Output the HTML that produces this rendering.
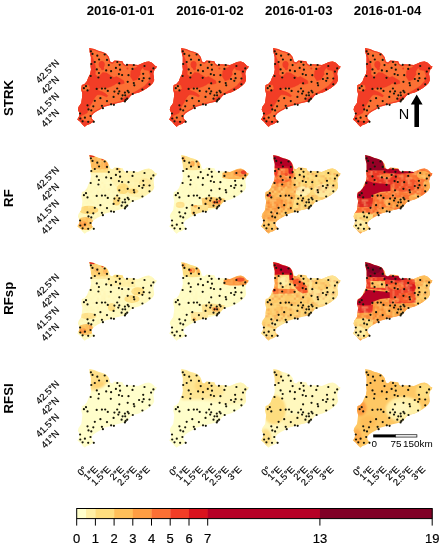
<!DOCTYPE html>
<html><head><meta charset="utf-8"><title>Daily precipitation maps</title>
<style>
html,body{margin:0;padding:0;background:#fff}
svg{display:block}
text{font-family:"Liberation Sans",Arial,Helvetica,sans-serif;fill:#000}
.t{font-weight:bold;font-size:13.2px}
.a{font-size:9.4px;stroke:#000;stroke-width:0.15px}
.c{font-size:13px;text-anchor:middle;stroke:#000;stroke-width:0.2px}
.s{font-size:9.9px;text-anchor:middle}
</style></head><body>
<svg width="443" height="550" viewBox="0 0 443 550">
<defs>
<polygon id="ol" points="89.4,48.1 94.3,49.0 98.2,50.7 102.7,51.9 106.1,53.5 108.9,56.9 110.1,61.4 112.3,62.6 114.5,60.6 117.9,60.7 122.5,61.3 123.6,63.7 125.4,65.0 129.0,64.2 133.5,64.6 138.1,65.1 141.7,63.4 145.3,62.0 148.9,61.4 151.6,62.5 153.9,64.4 154.8,65.7 156.7,66.2 156.2,68.3 154.8,69.3 153.9,71.6 153.4,73.9 153.9,77.5 154.2,80.2 153.0,82.9 150.5,85.4 146.8,88.2 143.0,90.4 139.5,92.3 137.0,93.0 133.7,93.7 130.9,95.4 128.6,98.2 125.8,101.0 121.3,102.2 116.8,103.3 112.3,104.4 107.2,105.9 103.3,107.0 100.5,109.3 97.1,111.0 93.7,113.2 91.4,116.0 92.0,118.9 94.3,120.9 92.6,122.2 89.8,123.9 86.9,125.1 84.7,126.8 82.4,124.5 80.2,121.7 77.3,119.4 79.0,116.6 79.6,113.2 77.9,109.8 78.5,107.0 81.3,103.0 81.9,98.5 82.4,94.0 81.3,89.5 81.9,85.0 84.3,84.3 86.9,81.2 88.3,77.6 90.3,73.8 91.0,69.5 90.6,66.0 90.9,62.6 90.9,56.9 89.8,52.4"/>
<clipPath id="cp"><use href="#ol"/></clipPath>
<filter id="bz" x="-20%" y="-20%" width="140%" height="140%"><feGaussianBlur stdDeviation="3.5"/></filter>
<filter id="bz1" x="-20%" y="-20%" width="140%" height="140%"><feGaussianBlur stdDeviation="2"/></filter>
<filter id="bz2" x="-30%" y="-30%" width="160%" height="160%"><feGaussianBlur stdDeviation="6"/></filter>
<pattern id="px" width="22.0" height="22.0" patternUnits="userSpaceOnUse"><rect x="0.0" y="0.0" width="2.2" height="2.2" fill="#E03410" fill-opacity="0.12"/><rect x="0.0" y="2.2" width="2.2" height="2.2" fill="#E03410" fill-opacity="0.12"/><rect x="0.0" y="4.4" width="2.2" height="2.2" fill="#FFE79A" fill-opacity="0.55"/><rect x="0.0" y="6.6" width="2.2" height="2.2" fill="#FFE79A" fill-opacity="0.55"/><rect x="0.0" y="8.8" width="2.2" height="2.2" fill="#FFE79A" fill-opacity="0.55"/><rect x="0.0" y="11.0" width="2.2" height="2.2" fill="#FFE79A" fill-opacity="0.25"/><rect x="0.0" y="13.2" width="2.2" height="2.2" fill="#E03410" fill-opacity="0.12"/><rect x="0.0" y="15.4" width="2.2" height="2.2" fill="#FFE79A" fill-opacity="0.55"/><rect x="0.0" y="17.6" width="2.2" height="2.2" fill="#E03410" fill-opacity="0.3"/><rect x="0.0" y="19.8" width="2.2" height="2.2" fill="#FFE79A" fill-opacity="0.25"/><rect x="2.2" y="4.4" width="2.2" height="2.2" fill="#FFE79A" fill-opacity="0.55"/><rect x="2.2" y="6.6" width="2.2" height="2.2" fill="#E03410" fill-opacity="0.12"/><rect x="2.2" y="8.8" width="2.2" height="2.2" fill="#FFE79A" fill-opacity="0.25"/><rect x="2.2" y="11.0" width="2.2" height="2.2" fill="#FFE79A" fill-opacity="0.25"/><rect x="2.2" y="13.2" width="2.2" height="2.2" fill="#E03410" fill-opacity="0.3"/><rect x="2.2" y="15.4" width="2.2" height="2.2" fill="#E03410" fill-opacity="0.3"/><rect x="2.2" y="17.6" width="2.2" height="2.2" fill="#FFE79A" fill-opacity="0.55"/><rect x="4.4" y="0.0" width="2.2" height="2.2" fill="#FFE79A" fill-opacity="0.25"/><rect x="4.4" y="2.2" width="2.2" height="2.2" fill="#E03410" fill-opacity="0.12"/><rect x="4.4" y="8.8" width="2.2" height="2.2" fill="#E03410" fill-opacity="0.3"/><rect x="4.4" y="11.0" width="2.2" height="2.2" fill="#E03410" fill-opacity="0.2"/><rect x="4.4" y="13.2" width="2.2" height="2.2" fill="#E03410" fill-opacity="0.2"/><rect x="4.4" y="15.4" width="2.2" height="2.2" fill="#E03410" fill-opacity="0.12"/><rect x="6.6" y="0.0" width="2.2" height="2.2" fill="#FFE79A" fill-opacity="0.55"/><rect x="6.6" y="2.2" width="2.2" height="2.2" fill="#E03410" fill-opacity="0.2"/><rect x="6.6" y="8.8" width="2.2" height="2.2" fill="#FFE79A" fill-opacity="0.25"/><rect x="6.6" y="11.0" width="2.2" height="2.2" fill="#FFE79A" fill-opacity="0.4"/><rect x="6.6" y="13.2" width="2.2" height="2.2" fill="#FFE79A" fill-opacity="0.4"/><rect x="6.6" y="15.4" width="2.2" height="2.2" fill="#FFE79A" fill-opacity="0.4"/><rect x="6.6" y="17.6" width="2.2" height="2.2" fill="#E03410" fill-opacity="0.3"/><rect x="6.6" y="19.8" width="2.2" height="2.2" fill="#FFE79A" fill-opacity="0.55"/><rect x="8.8" y="4.4" width="2.2" height="2.2" fill="#E03410" fill-opacity="0.3"/><rect x="8.8" y="6.6" width="2.2" height="2.2" fill="#E03410" fill-opacity="0.2"/><rect x="8.8" y="11.0" width="2.2" height="2.2" fill="#E03410" fill-opacity="0.12"/><rect x="8.8" y="15.4" width="2.2" height="2.2" fill="#E03410" fill-opacity="0.3"/><rect x="8.8" y="17.6" width="2.2" height="2.2" fill="#FFE79A" fill-opacity="0.55"/><rect x="11.0" y="6.6" width="2.2" height="2.2" fill="#FFE79A" fill-opacity="0.4"/><rect x="11.0" y="11.0" width="2.2" height="2.2" fill="#E03410" fill-opacity="0.2"/><rect x="11.0" y="13.2" width="2.2" height="2.2" fill="#E03410" fill-opacity="0.3"/><rect x="11.0" y="15.4" width="2.2" height="2.2" fill="#FFE79A" fill-opacity="0.25"/><rect x="11.0" y="17.6" width="2.2" height="2.2" fill="#FFE79A" fill-opacity="0.4"/><rect x="11.0" y="19.8" width="2.2" height="2.2" fill="#FFE79A" fill-opacity="0.25"/><rect x="13.2" y="0.0" width="2.2" height="2.2" fill="#E03410" fill-opacity="0.2"/><rect x="13.2" y="2.2" width="2.2" height="2.2" fill="#FFE79A" fill-opacity="0.4"/><rect x="13.2" y="4.4" width="2.2" height="2.2" fill="#E03410" fill-opacity="0.2"/><rect x="13.2" y="13.2" width="2.2" height="2.2" fill="#FFE79A" fill-opacity="0.4"/><rect x="13.2" y="19.8" width="2.2" height="2.2" fill="#E03410" fill-opacity="0.12"/><rect x="15.4" y="0.0" width="2.2" height="2.2" fill="#FFE79A" fill-opacity="0.25"/><rect x="15.4" y="2.2" width="2.2" height="2.2" fill="#FFE79A" fill-opacity="0.55"/><rect x="15.4" y="4.4" width="2.2" height="2.2" fill="#FFE79A" fill-opacity="0.4"/><rect x="15.4" y="8.8" width="2.2" height="2.2" fill="#FFE79A" fill-opacity="0.4"/><rect x="15.4" y="11.0" width="2.2" height="2.2" fill="#FFE79A" fill-opacity="0.4"/><rect x="15.4" y="13.2" width="2.2" height="2.2" fill="#E03410" fill-opacity="0.3"/><rect x="17.6" y="0.0" width="2.2" height="2.2" fill="#E03410" fill-opacity="0.3"/><rect x="17.6" y="6.6" width="2.2" height="2.2" fill="#E03410" fill-opacity="0.3"/><rect x="17.6" y="11.0" width="2.2" height="2.2" fill="#E03410" fill-opacity="0.2"/><rect x="17.6" y="13.2" width="2.2" height="2.2" fill="#E03410" fill-opacity="0.2"/><rect x="17.6" y="17.6" width="2.2" height="2.2" fill="#FFE79A" fill-opacity="0.25"/><rect x="19.8" y="0.0" width="2.2" height="2.2" fill="#E03410" fill-opacity="0.12"/><rect x="19.8" y="2.2" width="2.2" height="2.2" fill="#E03410" fill-opacity="0.12"/><rect x="19.8" y="4.4" width="2.2" height="2.2" fill="#FFE79A" fill-opacity="0.55"/><rect x="19.8" y="6.6" width="2.2" height="2.2" fill="#FFE79A" fill-opacity="0.25"/><rect x="19.8" y="13.2" width="2.2" height="2.2" fill="#FFE79A" fill-opacity="0.25"/><rect x="19.8" y="17.6" width="2.2" height="2.2" fill="#FFE79A" fill-opacity="0.4"/></pattern>
<pattern id="py" width="22.0" height="22.0" patternUnits="userSpaceOnUse"><rect x="0.0" y="2.2" width="2.2" height="2.2" fill="#FFFFCC" fill-opacity="0.6"/><rect x="0.0" y="4.4" width="2.2" height="2.2" fill="#FFEFA5" fill-opacity="0.6"/><rect x="0.0" y="8.8" width="2.2" height="2.2" fill="#FFFFCC" fill-opacity="0.6"/><rect x="0.0" y="11.0" width="2.2" height="2.2" fill="#FFFFCC" fill-opacity="0.6"/><rect x="0.0" y="13.2" width="2.2" height="2.2" fill="#FFEFA5" fill-opacity="0.4"/><rect x="0.0" y="19.8" width="2.2" height="2.2" fill="#FFFFCC" fill-opacity="0.6"/><rect x="2.2" y="2.2" width="2.2" height="2.2" fill="#FFFFCC" fill-opacity="0.6"/><rect x="2.2" y="4.4" width="2.2" height="2.2" fill="#FFEFA5" fill-opacity="0.8"/><rect x="2.2" y="6.6" width="2.2" height="2.2" fill="#FEDD7F" fill-opacity="0.3"/><rect x="2.2" y="11.0" width="2.2" height="2.2" fill="#FFEFA5" fill-opacity="0.8"/><rect x="2.2" y="17.6" width="2.2" height="2.2" fill="#FFEFA5" fill-opacity="0.6"/><rect x="4.4" y="0.0" width="2.2" height="2.2" fill="#FEDD7F" fill-opacity="0.3"/><rect x="4.4" y="2.2" width="2.2" height="2.2" fill="#FFFFCC" fill-opacity="0.6"/><rect x="4.4" y="6.6" width="2.2" height="2.2" fill="#FEDD7F" fill-opacity="0.3"/><rect x="4.4" y="15.4" width="2.2" height="2.2" fill="#FFEFA5" fill-opacity="0.4"/><rect x="6.6" y="0.0" width="2.2" height="2.2" fill="#FFEFA5" fill-opacity="0.8"/><rect x="6.6" y="2.2" width="2.2" height="2.2" fill="#FFFFCC" fill-opacity="0.6"/><rect x="6.6" y="11.0" width="2.2" height="2.2" fill="#FFFFCC" fill-opacity="0.6"/><rect x="6.6" y="13.2" width="2.2" height="2.2" fill="#FFEFA5" fill-opacity="0.8"/><rect x="6.6" y="17.6" width="2.2" height="2.2" fill="#FFFFCC" fill-opacity="0.6"/><rect x="8.8" y="4.4" width="2.2" height="2.2" fill="#FEDD7F" fill-opacity="0.3"/><rect x="8.8" y="6.6" width="2.2" height="2.2" fill="#FFEFA5" fill-opacity="0.6"/><rect x="8.8" y="8.8" width="2.2" height="2.2" fill="#FFEFA5" fill-opacity="0.4"/><rect x="8.8" y="11.0" width="2.2" height="2.2" fill="#FFFFCC" fill-opacity="0.6"/><rect x="8.8" y="17.6" width="2.2" height="2.2" fill="#FFEFA5" fill-opacity="0.8"/><rect x="8.8" y="19.8" width="2.2" height="2.2" fill="#FEDD7F" fill-opacity="0.3"/><rect x="11.0" y="2.2" width="2.2" height="2.2" fill="#FFEFA5" fill-opacity="0.6"/><rect x="11.0" y="8.8" width="2.2" height="2.2" fill="#FFFFCC" fill-opacity="0.6"/><rect x="11.0" y="11.0" width="2.2" height="2.2" fill="#FFEFA5" fill-opacity="0.8"/><rect x="11.0" y="13.2" width="2.2" height="2.2" fill="#FEDD7F" fill-opacity="0.5"/><rect x="11.0" y="15.4" width="2.2" height="2.2" fill="#FFFFCC" fill-opacity="0.6"/><rect x="11.0" y="19.8" width="2.2" height="2.2" fill="#FFEFA5" fill-opacity="0.4"/><rect x="13.2" y="0.0" width="2.2" height="2.2" fill="#FFEFA5" fill-opacity="0.4"/><rect x="13.2" y="2.2" width="2.2" height="2.2" fill="#FFEFA5" fill-opacity="0.8"/><rect x="13.2" y="8.8" width="2.2" height="2.2" fill="#FFEFA5" fill-opacity="0.8"/><rect x="13.2" y="15.4" width="2.2" height="2.2" fill="#FEDD7F" fill-opacity="0.3"/><rect x="13.2" y="17.6" width="2.2" height="2.2" fill="#FFEFA5" fill-opacity="0.8"/><rect x="15.4" y="0.0" width="2.2" height="2.2" fill="#FFFFCC" fill-opacity="0.6"/><rect x="15.4" y="4.4" width="2.2" height="2.2" fill="#FFFFCC" fill-opacity="0.6"/><rect x="15.4" y="11.0" width="2.2" height="2.2" fill="#FFEFA5" fill-opacity="0.6"/><rect x="15.4" y="13.2" width="2.2" height="2.2" fill="#FFEFA5" fill-opacity="0.8"/><rect x="15.4" y="15.4" width="2.2" height="2.2" fill="#FFEFA5" fill-opacity="0.8"/><rect x="15.4" y="17.6" width="2.2" height="2.2" fill="#FEDD7F" fill-opacity="0.5"/><rect x="17.6" y="0.0" width="2.2" height="2.2" fill="#FFEFA5" fill-opacity="0.8"/><rect x="17.6" y="2.2" width="2.2" height="2.2" fill="#FEDD7F" fill-opacity="0.5"/><rect x="17.6" y="8.8" width="2.2" height="2.2" fill="#FFFFCC" fill-opacity="0.6"/><rect x="17.6" y="15.4" width="2.2" height="2.2" fill="#FFEFA5" fill-opacity="0.4"/><rect x="17.6" y="17.6" width="2.2" height="2.2" fill="#FFFFCC" fill-opacity="0.6"/><rect x="17.6" y="19.8" width="2.2" height="2.2" fill="#FFEFA5" fill-opacity="0.6"/><rect x="19.8" y="6.6" width="2.2" height="2.2" fill="#FFEFA5" fill-opacity="0.4"/><rect x="19.8" y="8.8" width="2.2" height="2.2" fill="#FFFFCC" fill-opacity="0.6"/><rect x="19.8" y="15.4" width="2.2" height="2.2" fill="#FEDD7F" fill-opacity="0.5"/><rect x="19.8" y="19.8" width="2.2" height="2.2" fill="#FFEFA5" fill-opacity="0.8"/></pattern>
<g id="dots" fill="#17170a">
<circle cx="90.9" cy="51.3" r="1.1"/>
<circle cx="92.5" cy="53.9" r="1.1"/>
<circle cx="97.3" cy="55.7" r="1.1"/>
<circle cx="104.7" cy="54.5" r="1.1"/>
<circle cx="99.1" cy="59.5" r="1.1"/>
<circle cx="107" cy="59.9" r="1.1"/>
<circle cx="94.8" cy="62.0" r="1.1"/>
<circle cx="91.3" cy="64.0" r="1.1"/>
<circle cx="117.3" cy="62.0" r="1.1"/>
<circle cx="108.8" cy="65.1" r="1.1"/>
<circle cx="115.9" cy="67.9" r="1.1"/>
<circle cx="96.8" cy="69.4" r="1.1"/>
<circle cx="106.2" cy="70.4" r="1.1"/>
<circle cx="111.1" cy="71.2" r="1.1"/>
<circle cx="98.9" cy="73.0" r="1.1"/>
<circle cx="90.7" cy="76.0" r="1.1"/>
<circle cx="98.4" cy="77.5" r="1.1"/>
<circle cx="110.8" cy="77.8" r="1.1"/>
<circle cx="118.9" cy="74.1" r="1.1"/>
<circle cx="119.7" cy="64.8" r="1.1"/>
<circle cx="119.3" cy="83.3" r="1.1"/>
<circle cx="86" cy="86.2" r="1.1"/>
<circle cx="83.9" cy="88.2" r="1.1"/>
<circle cx="96.7" cy="88.9" r="1.1"/>
<circle cx="101.9" cy="88.6" r="1.1"/>
<circle cx="105.2" cy="88.5" r="1.1"/>
<circle cx="127" cy="64.8" r="1.1"/>
<circle cx="133.8" cy="65.0" r="1.1"/>
<circle cx="144.5" cy="66.0" r="1.1"/>
<circle cx="153.4" cy="68.4" r="1.1"/>
<circle cx="120.1" cy="69.7" r="1.1"/>
<circle cx="132.5" cy="68.9" r="1.1"/>
<circle cx="151.1" cy="71.6" r="1.1"/>
<circle cx="122.1" cy="75.0" r="1.1"/>
<circle cx="128.5" cy="75.2" r="1.1"/>
<circle cx="143.2" cy="73.8" r="1.1"/>
<circle cx="139.1" cy="79.0" r="1.1"/>
<circle cx="143.7" cy="78.2" r="1.1"/>
<circle cx="149.5" cy="78.5" r="1.1"/>
<circle cx="142.4" cy="80.8" r="1.1"/>
<circle cx="127.7" cy="81.8" r="1.1"/>
<circle cx="133.8" cy="83.1" r="1.1"/>
<circle cx="134.3" cy="85.3" r="1.1"/>
<circle cx="149.5" cy="84.3" r="1.1"/>
<circle cx="117.2" cy="88.5" r="1.1"/>
<circle cx="87.5" cy="90.4" r="1.1"/>
<circle cx="107.8" cy="90.9" r="1.1"/>
<circle cx="114.4" cy="91.6" r="1.1"/>
<circle cx="118.3" cy="93.6" r="1.1"/>
<circle cx="119.3" cy="91.3" r="1.1"/>
<circle cx="113.6" cy="96.9" r="1.1"/>
<circle cx="100.4" cy="98.2" r="1.1"/>
<circle cx="94.8" cy="100.8" r="1.1"/>
<circle cx="107" cy="101.1" r="1.1"/>
<circle cx="111.1" cy="104.3" r="1.1"/>
<circle cx="113.9" cy="104.8" r="1.1"/>
<circle cx="87.5" cy="105.3" r="1.1"/>
<circle cx="93.3" cy="106.3" r="1.1"/>
<circle cx="101.9" cy="105.8" r="1.1"/>
<circle cx="102.9" cy="108.2" r="1.1"/>
<circle cx="88.5" cy="109.4" r="1.1"/>
<circle cx="91.3" cy="110.4" r="1.1"/>
<circle cx="80.1" cy="113.5" r="1.1"/>
<circle cx="90.5" cy="116.0" r="1.1"/>
<circle cx="84.9" cy="117.7" r="1.1"/>
<circle cx="80.3" cy="118.5" r="1.1"/>
<circle cx="82.6" cy="121.3" r="1.1"/>
<circle cx="88.2" cy="121.8" r="1.1"/>
<circle cx="93.8" cy="121.8" r="1.1"/>
<circle cx="142.4" cy="89.5" r="1.1"/>
<circle cx="127.7" cy="90.8" r="1.1"/>
<circle cx="128.7" cy="92.3" r="1.1"/>
<circle cx="124.9" cy="92.6" r="1.1"/>
<circle cx="132.8" cy="94.0" r="1.1"/>
<circle cx="122.6" cy="95.3" r="1.1"/>
<circle cx="125.2" cy="95.3" r="1.1"/>
<circle cx="121.6" cy="98.7" r="1.1"/>
<circle cx="127.2" cy="98.7" r="1.1"/>
<circle cx="125.7" cy="99.9" r="1.1"/>
<circle cx="124.9" cy="101.4" r="1.1"/>
</g>
</defs>
<rect width="443" height="550" fill="#fff"/>
<text class="t" x="120.5" y="15" text-anchor="middle">2016-01-01</text>
<text class="t" x="209.9" y="15" text-anchor="middle">2016-01-02</text>
<text class="t" x="298.8" y="15" text-anchor="middle">2016-01-03</text>
<text class="t" x="387.6" y="15" text-anchor="middle">2016-01-04</text>
<text class="t" text-anchor="middle" transform="translate(13.2,98.0) rotate(-90)">STRK</text>
<text class="a" text-anchor="end" transform="translate(59.8,63.4) rotate(-45)">42.5°N</text>
<text class="a" text-anchor="end" transform="translate(59.8,79.9) rotate(-45)">42°N</text>
<text class="a" text-anchor="end" transform="translate(59.8,96.4) rotate(-45)">41.5°N</text>
<text class="a" text-anchor="end" transform="translate(59.8,112.9) rotate(-45)">41°N</text>
<text class="t" text-anchor="middle" transform="translate(13.2,198.1) rotate(-90)">RF</text>
<text class="a" text-anchor="end" transform="translate(59.8,170.4) rotate(-45)">42.5°N</text>
<text class="a" text-anchor="end" transform="translate(59.8,186.9) rotate(-45)">42°N</text>
<text class="a" text-anchor="end" transform="translate(59.8,203.4) rotate(-45)">41.5°N</text>
<text class="a" text-anchor="end" transform="translate(59.8,219.9) rotate(-45)">41°N</text>
<text class="t" text-anchor="middle" transform="translate(13.2,298.3) rotate(-90)">RFsp</text>
<text class="a" text-anchor="end" transform="translate(59.8,277.4) rotate(-45)">42.5°N</text>
<text class="a" text-anchor="end" transform="translate(59.8,293.9) rotate(-45)">42°N</text>
<text class="a" text-anchor="end" transform="translate(59.8,310.4) rotate(-45)">41.5°N</text>
<text class="a" text-anchor="end" transform="translate(59.8,326.9) rotate(-45)">41°N</text>
<text class="t" text-anchor="middle" transform="translate(13.2,398.4) rotate(-90)">RFSI</text>
<text class="a" text-anchor="end" transform="translate(59.8,384.4) rotate(-45)">42.5°N</text>
<text class="a" text-anchor="end" transform="translate(59.8,400.9) rotate(-45)">42°N</text>
<text class="a" text-anchor="end" transform="translate(59.8,417.4) rotate(-45)">41.5°N</text>
<text class="a" text-anchor="end" transform="translate(59.8,433.9) rotate(-45)">41°N</text>
<text class="a" text-anchor="end" transform="translate(87.5,470) rotate(-45)">0°</text>
<text class="a" text-anchor="end" transform="translate(98.3,470) rotate(-45)">1°E</text>
<text class="a" text-anchor="end" transform="translate(111.3,470) rotate(-45)">1.5°E</text>
<text class="a" text-anchor="end" transform="translate(124.3,470) rotate(-45)">2°E</text>
<text class="a" text-anchor="end" transform="translate(137.3,470) rotate(-45)">2.5°E</text>
<text class="a" text-anchor="end" transform="translate(150.3,470) rotate(-45)">3°E</text>
<text class="a" text-anchor="end" transform="translate(179.4,470) rotate(-45)">0°</text>
<text class="a" text-anchor="end" transform="translate(190.2,470) rotate(-45)">1°E</text>
<text class="a" text-anchor="end" transform="translate(203.2,470) rotate(-45)">1.5°E</text>
<text class="a" text-anchor="end" transform="translate(216.2,470) rotate(-45)">2°E</text>
<text class="a" text-anchor="end" transform="translate(229.2,470) rotate(-45)">2.5°E</text>
<text class="a" text-anchor="end" transform="translate(242.2,470) rotate(-45)">3°E</text>
<text class="a" text-anchor="end" transform="translate(271.3,470) rotate(-45)">0°</text>
<text class="a" text-anchor="end" transform="translate(282.1,470) rotate(-45)">1°E</text>
<text class="a" text-anchor="end" transform="translate(295.1,470) rotate(-45)">1.5°E</text>
<text class="a" text-anchor="end" transform="translate(308.1,470) rotate(-45)">2°E</text>
<text class="a" text-anchor="end" transform="translate(321.1,470) rotate(-45)">2.5°E</text>
<text class="a" text-anchor="end" transform="translate(334.1,470) rotate(-45)">3°E</text>
<text class="a" text-anchor="end" transform="translate(363.2,470) rotate(-45)">0°</text>
<text class="a" text-anchor="end" transform="translate(374.0,470) rotate(-45)">1°E</text>
<text class="a" text-anchor="end" transform="translate(387.0,470) rotate(-45)">1.5°E</text>
<text class="a" text-anchor="end" transform="translate(400.0,470) rotate(-45)">2°E</text>
<text class="a" text-anchor="end" transform="translate(413.0,470) rotate(-45)">2.5°E</text>
<text class="a" text-anchor="end" transform="translate(426.0,470) rotate(-45)">3°E</text>
<g transform="translate(0.0,0.0)">
<g clip-path="url(#cp)"><rect x="70" y="40" width="95" height="95" fill="#FC7034"/>
<g transform="translate(70,40) scale(0.20317)"><polygon fill="#F23D26" points="85,30 106,48 108,80 121,112 126,138 124,168 139,183 149,173 161,160 181,163 199,175 216,185 229,180 244,188 264,200 267,213 249,218 229,213 219,220 199,230 181,235 161,233 144,238 134,245 144,250 159,255 174,263 186,275 181,280 164,273 149,269 134,270 124,280 116,293 109,308 99,323 91,338 84,359 66,368 52,374 60,392 90,400 125,398 125,430 20,430 20,200 80,60" stroke="#F23D26" stroke-width="2.5" stroke-linejoin="round"/><polygon fill="#FC7034" points="50,228 70,220 92,224 96,240 80,250 56,248" stroke="#FC7034" stroke-width="4" stroke-linejoin="round"/><polygon fill="#FC7034" points="62,385 95,385 118,392 100,398 70,397"/><ellipse fill="#F23D26" cx="156" cy="121" rx="15" ry="18"/><ellipse fill="#F23D26" cx="160" cy="140" rx="8" ry="9"/><polygon fill="#F23D26" points="300,152 320,137 343,140 346,170 330,195 310,200 298,180" stroke="#F23D26" stroke-width="2.5" stroke-linejoin="round"/><polygon fill="#F23D26" points="352,125 370,105 400,98 430,108 440,128 412,140 407,160 416,185 404,215 382,238 350,258 320,278 290,293 262,306 252,292 290,272 330,250 368,226 390,200 396,175 388,150 365,147" stroke="#F23D26" stroke-width="2.5" stroke-linejoin="round"/><ellipse fill="#F23D26" cx="283" cy="140" rx="5" ry="5"/><polygon fill="#F23D26" points="318,142 340,122 372,106 380,125 355,140 343,160"/></g>
<use href="#ol" fill="none" stroke="#F23D26" stroke-width="2.4" stroke-linejoin="round"/>
</g><use href="#dots"/></g>
<g transform="translate(91.9,0.0)">
<g clip-path="url(#cp)"><rect x="70" y="40" width="95" height="95" fill="#FC7034"/>
<g transform="translate(70,40) scale(0.20317)"><polygon fill="#F23D26" points="85,30 106,48 108,80 121,112 126,138 124,168 139,183 149,173 161,160 181,163 199,175 216,185 229,180 244,188 264,200 267,213 249,218 229,213 219,220 199,230 181,235 161,233 144,238 134,245 144,250 159,255 174,263 186,275 181,280 164,273 149,269 134,270 124,280 116,293 109,308 99,323 91,338 84,359 66,368 52,374 60,392 90,400 125,398 125,430 20,430 20,200 80,60" stroke="#F23D26" stroke-width="2.5" stroke-linejoin="round"/><polygon fill="#FC7034" points="50,228 70,220 92,224 96,240 80,250 56,248" stroke="#FC7034" stroke-width="4" stroke-linejoin="round"/><polygon fill="#FC7034" points="62,385 95,385 118,392 100,398 70,397"/><ellipse fill="#F23D26" cx="156" cy="121" rx="15" ry="18"/><ellipse fill="#F23D26" cx="160" cy="140" rx="8" ry="9"/><polygon fill="#F23D26" points="300,152 320,137 343,140 346,170 330,195 310,200 298,180" stroke="#F23D26" stroke-width="2.5" stroke-linejoin="round"/><polygon fill="#F23D26" points="352,125 370,105 400,98 430,108 440,128 412,140 407,160 416,185 404,215 382,238 350,258 320,278 290,293 262,306 252,292 290,272 330,250 368,226 390,200 396,175 388,150 365,147" stroke="#F23D26" stroke-width="2.5" stroke-linejoin="round"/><ellipse fill="#F23D26" cx="283" cy="140" rx="5" ry="5"/><polygon fill="#F23D26" points="318,142 340,122 372,106 380,125 355,140 343,160"/></g>
<use href="#ol" fill="none" stroke="#F23D26" stroke-width="2.4" stroke-linejoin="round"/>
</g><use href="#dots"/></g>
<g transform="translate(183.8,0.0)">
<g clip-path="url(#cp)"><rect x="70" y="40" width="95" height="95" fill="#FC7034"/>
<g transform="translate(70,40) scale(0.20317)"><polygon fill="#F23D26" points="85,30 106,48 108,80 121,112 126,138 124,168 139,183 149,173 161,160 181,163 199,175 216,185 229,180 244,188 264,200 267,213 249,218 229,213 219,220 199,230 181,235 161,233 144,238 134,245 144,250 159,255 174,263 186,275 181,280 164,273 149,269 134,270 124,280 116,293 109,308 99,323 91,338 84,359 66,368 52,374 60,392 90,400 125,398 125,430 20,430 20,200 80,60" stroke="#F23D26" stroke-width="2.5" stroke-linejoin="round"/><polygon fill="#FC7034" points="50,228 70,220 92,224 96,240 80,250 56,248" stroke="#FC7034" stroke-width="4" stroke-linejoin="round"/><polygon fill="#FC7034" points="62,385 95,385 118,392 100,398 70,397"/><ellipse fill="#F23D26" cx="156" cy="121" rx="15" ry="18"/><ellipse fill="#F23D26" cx="160" cy="140" rx="8" ry="9"/><polygon fill="#F23D26" points="300,152 320,137 343,140 346,170 330,195 310,200 298,180" stroke="#F23D26" stroke-width="2.5" stroke-linejoin="round"/><polygon fill="#F23D26" points="352,125 370,105 400,98 430,108 440,128 412,140 407,160 416,185 404,215 382,238 350,258 320,278 290,293 262,306 252,292 290,272 330,250 368,226 390,200 396,175 388,150 365,147" stroke="#F23D26" stroke-width="2.5" stroke-linejoin="round"/><ellipse fill="#F23D26" cx="283" cy="140" rx="5" ry="5"/><polygon fill="#F23D26" points="318,142 340,122 372,106 380,125 355,140 343,160"/></g>
<use href="#ol" fill="none" stroke="#F23D26" stroke-width="2.4" stroke-linejoin="round"/>
</g><use href="#dots"/></g>
<g transform="translate(275.7,0.0)">
<g clip-path="url(#cp)"><rect x="70" y="40" width="95" height="95" fill="#FC7034"/>
<g transform="translate(70,40) scale(0.20317)"><polygon fill="#F23D26" points="85,30 106,48 108,80 121,112 126,138 124,168 139,183 149,173 161,160 181,163 199,175 216,185 229,180 244,188 264,200 267,213 249,218 229,213 219,220 199,230 181,235 161,233 144,238 134,245 144,250 159,255 174,263 186,275 181,280 164,273 149,269 134,270 124,280 116,293 109,308 99,323 91,338 84,359 66,368 52,374 60,392 90,400 125,398 125,430 20,430 20,200 80,60" stroke="#F23D26" stroke-width="2.5" stroke-linejoin="round"/><polygon fill="#FC7034" points="50,228 70,220 92,224 96,240 80,250 56,248" stroke="#FC7034" stroke-width="4" stroke-linejoin="round"/><polygon fill="#FC7034" points="62,385 95,385 118,392 100,398 70,397"/><ellipse fill="#F23D26" cx="156" cy="121" rx="15" ry="18"/><ellipse fill="#F23D26" cx="160" cy="140" rx="8" ry="9"/><polygon fill="#F23D26" points="300,152 320,137 343,140 346,170 330,195 310,200 298,180" stroke="#F23D26" stroke-width="2.5" stroke-linejoin="round"/><polygon fill="#F23D26" points="352,125 370,105 400,98 430,108 440,128 412,140 407,160 416,185 404,215 382,238 350,258 320,278 290,293 262,306 252,292 290,272 330,250 368,226 390,200 396,175 388,150 365,147" stroke="#F23D26" stroke-width="2.5" stroke-linejoin="round"/><ellipse fill="#F23D26" cx="283" cy="140" rx="5" ry="5"/><polygon fill="#F23D26" points="318,142 340,122 372,106 380,125 355,140 343,160"/></g>
<use href="#ol" fill="none" stroke="#F23D26" stroke-width="2.4" stroke-linejoin="round"/>
</g><use href="#dots"/></g>
<g transform="translate(0.0,107.0)">
<g clip-path="url(#cp)"><rect x="70" y="40" width="95" height="95" fill="#FFFAC0"/>
<g transform="translate(70,40) scale(0.20317)" filter="url(#bz)"><polygon fill="#FFF3AE" points="190,100 250,95 330,115 430,100 430,200 350,250 280,240 230,200 190,150"/><polygon fill="#FEB856" points="90,35 125,45 160,55 183,68 190,90 187,112 150,114 110,112 98,85 98,60"/><rect fill="#FEDD7F" x="98" y="110" width="92" height="16"/><ellipse fill="#FD9D43" cx="176" cy="88" rx="8" ry="16"/><ellipse fill="#FDAE50" cx="135" cy="86" rx="10" ry="10"/><ellipse fill="#FEC866" cx="236" cy="108" rx="13" ry="8"/><ellipse fill="#FEDA78" cx="260" cy="205" rx="30" ry="26"/><ellipse fill="#FED878" cx="310" cy="218" rx="26" ry="14"/><ellipse fill="#FEE89A" cx="370" cy="176" rx="30" ry="22"/><ellipse fill="#FED878" cx="230" cy="266" rx="18" ry="22"/><ellipse fill="#FED878" cx="92" cy="310" rx="48" ry="21"/><ellipse fill="#FEBF5A" cx="75" cy="377" rx="44" ry="32"/><ellipse fill="#FD9D43" cx="64" cy="380" rx="20" ry="15"/></g>
<rect x="70" y="40" width="95" height="95" fill="url(#py)" opacity="0.3"/>
<g transform="translate(70,40) scale(0.20317)" filter="url(#bz1)"><polygon fill="#E02A20" points="88,34 122,42 119,50 96,48"/><ellipse fill="#EE5030" cx="160" cy="62" rx="6" ry="5"/></g>
</g><use href="#dots"/></g>
<g transform="translate(91.9,107.0)">
<g clip-path="url(#cp)"><rect x="70" y="40" width="95" height="95" fill="#FFFDC6"/>
<g transform="translate(70,40) scale(0.20317)" filter="url(#bz)"><polygon fill="#FEE08A" points="90,35 125,45 160,55 183,68 190,90 187,112 150,114 110,112 98,85 98,60"/><ellipse fill="#FDA84A" cx="150" cy="82" rx="11" ry="14"/><ellipse fill="#FDAE50" cx="178" cy="85" rx="7" ry="15"/><ellipse fill="#FDB458" cx="107" cy="57" rx="8" ry="13"/><polygon fill="#FEB452" points="298,128 330,112 370,100 430,102 430,152 380,157 330,157 298,152"/><ellipse fill="#FD8D3C" cx="385" cy="128" rx="32" ry="18"/><polygon fill="#FEC866" points="195,252 240,245 310,255 300,280 260,300 225,300 200,285"/><ellipse fill="#FD8D3C" cx="268" cy="272" rx="22" ry="10"/><polygon fill="#FEE08A" points="140,285 230,285 225,320 170,335 145,330"/><ellipse fill="#FDAE50" cx="165" cy="292" rx="9" ry="7"/><ellipse fill="#FDAE50" cx="155" cy="325" rx="8" ry="8"/><ellipse fill="#FEE08A" cx="90" cy="285" rx="22" ry="15"/></g>
<rect x="70" y="40" width="95" height="95" fill="url(#py)" opacity="0.22"/>
<g transform="translate(70,40) scale(0.20317)" filter="url(#bz1)"><ellipse fill="#E8402A" cx="403" cy="124" rx="14" ry="10"/><ellipse fill="#E8402A" cx="262" cy="272" rx="7" ry="5"/><ellipse fill="#E8402A" cx="283" cy="266" rx="6" ry="5"/></g>
</g><use href="#dots"/></g>
<g transform="translate(183.8,107.0)">
<g clip-path="url(#cp)"><rect x="70" y="40" width="95" height="95" fill="#FEBF5A"/>
<g transform="translate(70,40) scale(0.20317)" filter="url(#bz)"><polygon fill="#FEDA78" points="185,95 250,90 330,110 440,95 440,210 350,270 280,310 200,340 150,300 190,250 205,200 190,150"/><ellipse fill="#FFF2B0" cx="240" cy="218" rx="38" ry="24"/><ellipse fill="#FEE89A" cx="350" cy="215" rx="55" ry="35"/><polygon fill="#FDB656" points="95,120 200,120 210,200 200,260 190,300 200,345 120,380 95,420 30,420 30,300 50,220 90,180"/><ellipse fill="#FD9D43" cx="105" cy="280" rx="58" ry="24"/><ellipse fill="#FD9840" cx="140" cy="172" rx="48" ry="26"/><ellipse fill="#FDAE50" cx="80" cy="330" rx="30" ry="28"/><ellipse fill="#FEC866" cx="70" cy="388" rx="35" ry="22"/><ellipse fill="#FEBF5A" cx="165" cy="322" rx="35" ry="18"/><polygon fill="#FA6C32" points="92,95 192,95 196,150 165,172 98,182 86,140"/><ellipse fill="#FD9040" cx="145" cy="150" rx="30" ry="14"/></g>
<rect x="70" y="40" width="95" height="95" fill="url(#px)" opacity="0.7"/>
<g transform="translate(70,40) scale(0.20317)" filter="url(#bz1)"><polygon fill="#CC1026" points="86,32 130,46 160,54 184,66 194,100 192,132 172,132 170,104 94,104 90,60"/><polygon fill="#B60026" points="95,42 130,52 160,60 180,73 185,96 150,96 120,92 104,88"/><ellipse fill="#E8402A" cx="74" cy="238" rx="12" ry="8"/><ellipse fill="#F23D26" cx="108" cy="125" rx="9" ry="16"/><ellipse fill="#F4502C" cx="160" cy="135" rx="8" ry="8"/></g>
</g><use href="#dots"/></g>
<g transform="translate(275.7,107.0)">
<g clip-path="url(#cp)"><rect x="70" y="40" width="95" height="95" fill="#FD9D43"/>
<g transform="translate(70,40) scale(0.20317)" filter="url(#bz)"><polygon fill="#FC7836" points="200,120 440,95 440,210 350,270 280,310 200,340 140,320 130,240 215,215"/><ellipse fill="#FDB050" cx="382" cy="138" rx="32" ry="20"/><ellipse fill="#F4522C" cx="290" cy="185" rx="65" ry="36"/><ellipse fill="#F4522C" cx="255" cy="150" rx="55" ry="26"/><ellipse fill="#FD9D43" cx="250" cy="275" rx="60" ry="25"/><ellipse fill="#FDAE50" cx="345" cy="248" rx="35" ry="15"/><ellipse fill="#FDAE50" cx="200" cy="312" rx="40" ry="14"/><ellipse fill="#FDAE50" cx="400" cy="190" rx="18" ry="30"/><polygon fill="#EC3826" points="95,112 255,118 250,172 215,188 100,170"/><ellipse fill="#FC8038" cx="200" cy="142" rx="32" ry="12"/><polygon fill="#E02A20" points="50,248 135,248 130,300 60,305 45,280"/><polygon fill="#FC7034" points="45,295 135,295 140,325 90,335 45,330"/><polygon fill="#FEDD7F" points="30,325 95,322 135,330 130,370 110,420 30,420"/><ellipse fill="#FFEFA5" cx="68" cy="385" rx="32" ry="28"/></g>
<rect x="70" y="40" width="95" height="95" fill="url(#px)" opacity="0.65"/>
<g transform="translate(70,40) scale(0.20317)" filter="url(#bz1)"><polygon fill="#960026" points="88,34 130,48 160,56 182,68 190,100 190,116 150,116 96,114 94,60"/><polygon fill="#B00026" points="188,104 250,108 330,112 335,128 260,132 188,126"/><polygon fill="#B60026" points="96,164 140,176 220,185 220,217 170,222 132,236 122,252 45,252 50,235 72,214 94,190"/></g>
</g><use href="#dots"/></g>
<g transform="translate(0.0,214.0)">
<g clip-path="url(#cp)"><rect x="70" y="40" width="95" height="95" fill="#FFFAC0"/>
<g transform="translate(70,40) scale(0.20317)" filter="url(#bz)"><polygon fill="#FED070" points="90,35 125,45 160,55 183,68 190,90 187,112 150,114 110,112 98,85 98,60"/><rect fill="#FEE699" x="98" y="110" width="92" height="12"/><ellipse fill="#FDAE50" cx="172" cy="85" rx="9" ry="15"/><ellipse fill="#FDB458" cx="132" cy="80" rx="12" ry="12"/><polygon fill="#FFEFA5" points="188,105 250,100 321,118 321,163 250,160 188,150"/><ellipse fill="#FEDD7F" cx="240" cy="110" rx="28" ry="9"/><ellipse fill="#FEDD7F" cx="334" cy="184" rx="32" ry="20"/><ellipse fill="#FEDD7F" cx="305" cy="222" rx="38" ry="19"/><ellipse fill="#FEDD7F" cx="205" cy="262" rx="18" ry="20"/><ellipse fill="#FEE08A" cx="90" cy="305" rx="40" ry="16"/><ellipse fill="#FEBF5A" cx="78" cy="372" rx="40" ry="28"/><ellipse fill="#FD9540" cx="64" cy="378" rx="16" ry="13"/><ellipse fill="#FD9D43" cx="100" cy="362" rx="9" ry="13"/></g>
<rect x="70" y="40" width="95" height="95" fill="url(#py)" opacity="0.3"/>
<g transform="translate(70,40) scale(0.20317)" filter="url(#bz1)"><polygon fill="#E02A20" points="88,34 122,42 119,50 96,48"/><ellipse fill="#EE5030" cx="160" cy="62" rx="6" ry="4"/></g>
</g><use href="#dots"/></g>
<g transform="translate(91.9,214.0)">
<g clip-path="url(#cp)"><rect x="70" y="40" width="95" height="95" fill="#FFFDC6"/>
<g transform="translate(70,40) scale(0.20317)" filter="url(#bz)"><polygon fill="#FEDD7F" points="90,35 125,45 160,55 183,68 190,90 187,112 150,114 110,112 98,85 98,60"/><ellipse fill="#FD9D43" cx="148" cy="80" rx="16" ry="14"/><ellipse fill="#FDAE50" cx="178" cy="85" rx="8" ry="15"/><ellipse fill="#FDAE50" cx="107" cy="55" rx="9" ry="13"/><polygon fill="#FD9840" points="304,128 335,110 375,100 432,102 432,150 380,155 335,155 304,150"/><polygon fill="#FEE08A" points="195,250 240,243 310,252 300,280 260,300 225,300 200,285"/><ellipse fill="#FDAE50" cx="265" cy="272" rx="20" ry="12"/><polygon fill="#FEE699" points="140,285 230,285 225,320 170,335 145,330"/><ellipse fill="#FDB458" cx="160" cy="322" rx="9" ry="10"/></g>
<rect x="70" y="40" width="95" height="95" fill="url(#py)" opacity="0.22"/>
<g transform="translate(70,40) scale(0.20317)" filter="url(#bz1)"><ellipse fill="#F0502C" cx="385" cy="126" rx="22" ry="10"/><ellipse fill="#F0502C" cx="140" cy="80" rx="8" ry="6"/><ellipse fill="#F0603A" cx="263" cy="270" rx="8" ry="6"/></g>
</g><use href="#dots"/></g>
<g transform="translate(183.8,214.0)">
<g clip-path="url(#cp)"><rect x="70" y="40" width="95" height="95" fill="#FED474"/>
<g transform="translate(70,40) scale(0.20317)" filter="url(#bz)"><polygon fill="#FEE391" points="280,95 330,110 440,95 440,210 350,270 300,240 270,180"/><ellipse fill="#FED070" cx="330" cy="150" rx="45" ry="28"/><ellipse fill="#FEC866" cx="130" cy="282" rx="85" ry="22"/><ellipse fill="#FEC866" cx="180" cy="225" rx="100" ry="25"/><ellipse fill="#FEE391" cx="70" cy="385" rx="35" ry="25"/><ellipse fill="#FEE89A" cx="120" cy="345" rx="40" ry="15"/><polygon fill="#FD9D43" points="92,98 122,100 122,195 96,195 86,160"/><polygon fill="#FC8038" points="96,168 205,172 205,194 96,196"/><polygon fill="#FEE08A" points="118,104 176,106 178,172 118,170"/><ellipse fill="#FFF0A8" cx="148" cy="135" rx="20" ry="22"/><polygon fill="#FDA048" points="176,104 215,108 240,128 200,150 176,140"/><polygon fill="#F65A2C" points="190,122 215,122 240,136 262,160 266,190 240,194 215,178 195,155"/></g>
<rect x="70" y="40" width="95" height="95" fill="url(#px)" opacity="0.6"/>
<g transform="translate(70,40) scale(0.20317)" filter="url(#bz1)"><polygon fill="#D0101E" points="86,32 130,46 160,54 184,66 193,100 192,128 176,128 174,102 96,102 92,60"/><polygon fill="#B60026" points="110,50 130,54 160,62 180,73 185,96 150,96 130,90"/><ellipse fill="#E8402A" cx="100" cy="180" rx="8" ry="9"/></g>
</g><use href="#dots"/></g>
<g transform="translate(275.7,214.0)">
<g clip-path="url(#cp)"><rect x="70" y="40" width="95" height="95" fill="#FD9D43"/>
<g transform="translate(70,40) scale(0.20317)" filter="url(#bz)"><polygon fill="#FEBF5A" points="325,100 440,90 440,210 350,270 330,250"/><ellipse fill="#FECB6A" cx="390" cy="185" rx="30" ry="45"/><ellipse fill="#FDAE50" cx="360" cy="140" rx="25" ry="18"/><polygon fill="#FD9D43" points="130,240 330,235 350,265 280,310 200,340 140,320"/><ellipse fill="#FDB050" cx="255" cy="290" rx="55" ry="18"/><polygon fill="#EE402A" points="188,128 340,125 345,240 215,244 215,185 190,172"/><ellipse fill="#FC7034" cx="250" cy="160" rx="38" ry="16"/><ellipse fill="#FC7034" cx="170" cy="150" rx="20" ry="12"/><ellipse fill="#D9131E" cx="325" cy="165" rx="20" ry="18"/><ellipse fill="#F85A2C" cx="300" cy="215" rx="40" ry="25"/><ellipse fill="#FC7034" cx="240" cy="228" rx="25" ry="12"/><polygon fill="#EE3A26" points="95,112 200,116 200,178 100,170"/><polygon fill="#FEC060" points="122,133 194,133 194,167 122,165"/><polygon fill="#E8302A" points="50,248 135,248 130,292 60,296 45,280"/><polygon fill="#FD9D43" points="45,290 135,288 140,318 90,328 45,325"/><polygon fill="#FEDD7F" points="30,320 95,316 135,325 130,370 110,420 30,420"/><ellipse fill="#FFEFA5" cx="66" cy="385" rx="32" ry="30"/></g>
<rect x="70" y="40" width="95" height="95" fill="url(#px)" opacity="0.65"/>
<g transform="translate(70,40) scale(0.20317)" filter="url(#bz1)"><polygon fill="#9C0026" points="88,34 130,48 160,56 182,68 190,100 192,114 150,114 96,112 94,60"/><ellipse fill="#800026" cx="140" cy="80" rx="30" ry="18"/><polygon fill="#B00026" points="188,104 250,108 300,110 305,126 260,130 188,126"/><polygon fill="#B60026" points="98,176 140,180 217,188 217,216 170,222 132,236 122,252 45,252 50,235 72,214 94,190"/></g>
</g><use href="#dots"/></g>
<g transform="translate(0.0,321.0)">
<g clip-path="url(#cp)"><rect x="70" y="40" width="95" height="95" fill="#FFFECB"/>
<g transform="translate(70,40) scale(0.20317)" filter="url(#bz2)"><polygon fill="#FEE08A" points="85,30 130,45 192,70 196,100 167,120 147,133 120,146 100,144 92,100"/><ellipse fill="#FED272" cx="138" cy="115" rx="32" ry="18"/></g>
</g><use href="#dots"/></g>
<g transform="translate(91.9,321.0)">
<g clip-path="url(#cp)"><rect x="70" y="40" width="95" height="95" fill="#FFFECB"/>
<g transform="translate(70,40) scale(0.20317)" filter="url(#bz2)"><polygon fill="#FFF5B6" points="80,30 440,80 440,200 330,215 200,195 90,190"/><polygon fill="#FEE694" points="85,30 192,68 200,105 260,98 300,118 305,160 250,186 100,192 92,120"/><ellipse fill="#FEDC80" cx="200" cy="122" rx="40" ry="34"/></g>
</g><use href="#dots"/></g>
<g transform="translate(183.8,321.0)">
<g clip-path="url(#cp)"><rect x="70" y="40" width="95" height="95" fill="#FFF8BE"/>
<g transform="translate(70,40) scale(0.20317)" filter="url(#bz2)"><ellipse fill="#FEDD7F" cx="100" cy="240" rx="58" ry="72"/><ellipse fill="#FEE08A" cx="112" cy="70" rx="24" ry="42"/><ellipse fill="#FEE08A" cx="58" cy="375" rx="28" ry="42"/><ellipse fill="#FFF2AE" cx="200" cy="300" rx="60" ry="40"/></g>
</g><use href="#dots"/></g>
<g transform="translate(275.7,321.0)">
<g clip-path="url(#cp)"><rect x="70" y="40" width="95" height="95" fill="#FEC864"/>
<g transform="translate(70,40) scale(0.20317)" filter="url(#bz2)"><ellipse fill="#FEBF5A" cx="150" cy="110" rx="85" ry="70"/><ellipse fill="#FFF0A8" cx="285" cy="238" rx="88" ry="62"/><ellipse fill="#FFF6BC" cx="270" cy="235" rx="45" ry="32"/><ellipse fill="#FEDD7F" cx="385" cy="150" rx="40" ry="38"/><ellipse fill="#FD9D43" cx="72" cy="232" rx="30" ry="38"/><ellipse fill="#FDAE50" cx="55" cy="375" rx="22" ry="42"/><ellipse fill="#FEBF5A" cx="110" cy="300" rx="40" ry="30"/></g>
</g><use href="#dots"/></g>
<text x="404" y="119.3" text-anchor="middle" style="font-size:14.5px">N</text>
<path d="M416.7 94.6 L422.6 104.4 H419 V127.1 H414.4 V104.4 H410.8 Z" fill="#000"/>
<rect x="373.2" y="434.4" width="22.3" height="3" fill="#000"/>
<rect x="395.5" y="434.75" width="21.4" height="2.3" fill="#fff" stroke="#000" stroke-width="0.7"/>
<text class="s" x="374.3" y="447.2">0</text><text class="s" x="396" y="447.2">75</text><text class="s" x="417.8" y="447.2">150km</text>
<rect x="76.70" y="508.5" width="9.66" height="10.1" fill="#FFFFCC"/>
<rect x="86.06" y="508.5" width="9.65" height="10.1" fill="#FFEFA5"/>
<rect x="95.41" y="508.5" width="19.01" height="10.1" fill="#FEDD7F"/>
<rect x="114.12" y="508.5" width="19.01" height="10.1" fill="#FEBF5A"/>
<rect x="132.83" y="508.5" width="19.01" height="10.1" fill="#FD9D43"/>
<rect x="151.54" y="508.5" width="19.01" height="10.1" fill="#FC7034"/>
<rect x="170.25" y="508.5" width="19.01" height="10.1" fill="#F23D26"/>
<rect x="188.96" y="508.5" width="19.01" height="10.1" fill="#D9131E"/>
<rect x="207.67" y="508.5" width="112.56" height="10.1" fill="#B60026"/>
<rect x="319.93" y="508.5" width="112.56" height="10.1" fill="#800026"/>
<rect x="76.7" y="508.5" width="355.5" height="10.1" fill="none" stroke="#000" stroke-width="1"/>
<line x1="76.7" y1="518.6" x2="76.7" y2="525.6" stroke="#000" stroke-width="1"/>
<text class="c" x="76.7" y="542.7">0</text>
<line x1="95.4" y1="518.6" x2="95.4" y2="525.6" stroke="#000" stroke-width="1"/>
<text class="c" x="95.4" y="542.7">1</text>
<line x1="114.1" y1="518.6" x2="114.1" y2="525.6" stroke="#000" stroke-width="1"/>
<text class="c" x="114.1" y="542.7">2</text>
<line x1="132.8" y1="518.6" x2="132.8" y2="525.6" stroke="#000" stroke-width="1"/>
<text class="c" x="132.8" y="542.7">3</text>
<line x1="151.5" y1="518.6" x2="151.5" y2="525.6" stroke="#000" stroke-width="1"/>
<text class="c" x="151.5" y="542.7">4</text>
<line x1="170.2" y1="518.6" x2="170.2" y2="525.6" stroke="#000" stroke-width="1"/>
<text class="c" x="170.2" y="542.7">5</text>
<line x1="189.0" y1="518.6" x2="189.0" y2="525.6" stroke="#000" stroke-width="1"/>
<text class="c" x="189.0" y="542.7">6</text>
<line x1="207.7" y1="518.6" x2="207.7" y2="525.6" stroke="#000" stroke-width="1"/>
<text class="c" x="207.7" y="542.7">7</text>
<line x1="319.9" y1="518.6" x2="319.9" y2="525.6" stroke="#000" stroke-width="1"/>
<text class="c" x="319.9" y="542.7">13</text>
<line x1="432.2" y1="518.6" x2="432.2" y2="525.6" stroke="#000" stroke-width="1"/>
<text class="c" x="432.2" y="542.7">19</text>
</svg></body></html>
